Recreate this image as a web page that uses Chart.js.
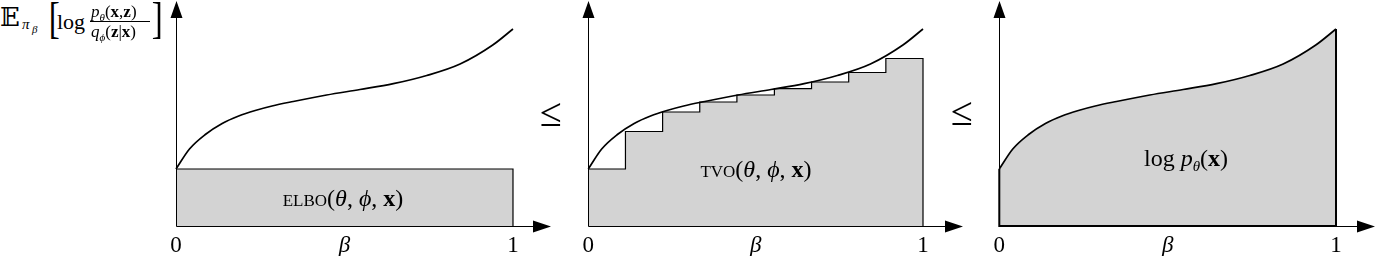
<!DOCTYPE html>
<html>
<head>
<meta charset="utf-8">
<script src="https://cdn.jsdelivr.net/npm/chart.js@4/dist/chart.umd.min.js"></script>
<style>
  html, body { margin: 0; padding: 0; background: #fff; }
  body { width: 1377px; height: 256px; position: relative; overflow: hidden;
         font-family: 'Liberation Serif', serif; color: #000; }
  canvas { position: absolute; top: 0; }
  .t { position: absolute; white-space: nowrap; line-height: 1; color: #000; }
  .sc { font-variant: small-caps; }
  .lab { font-size: 24px; transform: translate(-50%, -50%); }
  .le { font-size: 40px; transform: translate(-50%, -50%); }
</style>
</head>
<body>
<canvas id="c1" width="420" height="256" style="left:140px"></canvas>
<canvas id="c2" width="405" height="256" style="left:565px"></canvas>
<canvas id="c3" width="402" height="256" style="left:975px"></canvas>

<!-- y label -->
<span class="t" style="left:0px;top:4px;font-size:26px;font-family:'DejaVu Serif','DejaVu Sans'">𝔼</span>
<span class="t" style="left:22px;top:17px;font-size:15px;font-style:italic">π</span>
<span class="t" style="left:32px;top:24px;font-size:11px;font-style:italic">β</span>
<span class="t" style="left:47px;top:-3px;font-size:44px;transform:scaleX(0.75)">[</span>
<span class="t" style="left:57px;top:11px;font-size:22px">log</span>
<span class="t" style="left:91px;top:3px;font-size:17px"><i>p</i><sub style="font-size:11px"><i>θ</i></sub>(<b>x</b>,<b>z</b>)</span>
<span style="position:absolute;left:90px;top:21px;width:60px;height:0;border-top:1px solid #000"></span>
<span class="t" style="left:91px;top:23px;font-size:17px"><i>q</i><sub style="font-size:11px"><i>ϕ</i></sub>(<b>z</b>|<b>x</b>)</span>
<span class="t" style="left:150px;top:-3px;font-size:44px;transform:scaleX(0.75)">]</span>

<!-- region labels -->
<span class="t lab" style="left:343px;top:198px"><span class="sc">elbo</span>(<i>θ</i>, <i>ϕ</i>, <b>x</b>)</span>
<span class="t lab" style="left:756px;top:169px"><span class="sc">tvo</span>(<i>θ</i>, <i>ϕ</i>, <b>x</b>)</span>
<span class="t lab" style="left:1186px;top:160px">log <i>p</i><sub style="font-size:15px"><i>θ</i></sub>(<b>x</b>)</span>

<span class="t le" style="left:551px;top:113px">≤</span>
<span class="t le" style="left:962px;top:112px">≤</span>

<script>
// curve E[log p/q] over beta
const beta = [0, 0.04, 0.087, 0.137, 0.186, 0.235, 0.285, 0.348, 0.447, 0.546, 0.645, 0.744, 0.843, 0.94, 1];
const curveValues = [57, 77, 91.5, 102.5, 110, 115.5, 120, 124.5, 131, 136.5, 142.3, 150.5, 162, 181, 197];
// ELBO = integrand at beta = 0
const elboValue = 57;
// TVO left Riemann sum, 9 partitions
const stepBeta = [0, 0.111, 0.222, 0.333, 0.444, 0.556, 0.667, 0.778, 0.889, 1];
const stepValues = [57, 94.5, 114, 124, 131, 137.3, 144, 153.5, 167.5, 167.5];

const xTicks = [0, 0.5, 1];
const xTickLabels = ['0', 'β', '1'];
const yMax = 225;

const GRAY = '#d3d3d3';

const curvePts = beta.map((b, i) => ({x: b, y: curveValues[i]}));

// axes with arrow heads
const arrowAxes = {
  id: 'arrowAxes',
  afterDatasetsDraw(chart) {
    const {ctx, chartArea: a, scales: {x, y}} = chart;
    const x0 = Math.round(x.getPixelForValue(0)) + 0.5;
    const y0 = Math.round(y.getPixelForValue(0)) + 0.5;
    ctx.save();
    ctx.strokeStyle = '#000';
    ctx.fillStyle = '#000';
    ctx.lineWidth = 1;
    ctx.beginPath();
    ctx.moveTo(x0, y0); ctx.lineTo(a.right - 10, y0);
    ctx.moveTo(x0, y0); ctx.lineTo(x0, a.top + 10);
    ctx.stroke();
    ctx.beginPath();
    ctx.moveTo(a.right, y0); ctx.lineTo(a.right - 18, y0 - 6); ctx.lineTo(a.right - 18, y0 + 6);
    ctx.closePath(); ctx.fill();
    ctx.beginPath();
    ctx.moveTo(x0, a.top); ctx.lineTo(x0 - 6, a.top + 17); ctx.lineTo(x0 + 6, a.top + 17);
    ctx.closePath(); ctx.fill();
    ctx.restore();
  }
};

function makeOptions(padLeft, padRight, xMax) {
  return {
    responsive: false,
    animation: false,
    layout: { padding: { left: padLeft, right: padRight, top: 1, bottom: 0 } },
    plugins: { legend: { display: false }, tooltip: { enabled: false } },
    elements: { point: { radius: 0 } },
    scales: {
      x: {
        type: 'linear', min: 0, max: xMax,
        grid: { display: false, drawTicks: false },
        border: { display: false },
        afterBuildTicks: s => { s.ticks = xTicks.map(v => ({ value: v })); },
        afterFit: s => { s.height = 30; },
        ticks: {
          autoSkip: false, maxRotation: 0, padding: 6, color: '#000',
          font: c => ({ family: 'Liberation Serif', size: 23, style: c.index === 1 ? 'italic' : 'normal' }),
          callback: (v, i) => xTickLabels[i]
        }
      },
      y: { display: false, min: 0, max: yMax }
    }
  };
}

function curveSet(extra) {
  return Object.assign({
    data: curvePts, borderColor: '#000', borderWidth: 1.7,
    cubicInterpolationMode: 'monotone', fill: false, clip: false
  }, extra || {});
}

// panel 1: ELBO
new Chart(document.getElementById('c1'), {
  type: 'line',
  data: {
    datasets: [
      curveSet(),
      {
        data: [{x: 0, y: elboValue}, {x: 1, y: elboValue}, {x: 1, y: 0}],
        borderColor: '#000', borderWidth: 1.2, backgroundColor: GRAY,
        fill: 'origin', tension: 0, clip: false
      }
    ]
  },
  options: makeOptions(36, 9, 1.1128),
  plugins: [arrowAxes]
});

// panel 2: TVO
new Chart(document.getElementById('c2'), {
  type: 'line',
  data: {
    datasets: [
      curveSet(),
      {
        data: stepBeta.map((b, i) => ({x: b, y: stepValues[i]})).concat([{x: 1, y: 0}]),
        borderColor: '#000', borderWidth: 1.2, backgroundColor: GRAY,
        fill: 'origin', stepped: 'before', clip: false
      }
    ]
  },
  options: makeOptions(23.3, 7, 1.1195),
  plugins: [arrowAxes]
});

// panel 3: log p(x)
new Chart(document.getElementById('c3'), {
  type: 'line',
  data: {
    datasets: [
      {
        data: [{x: 0, y: curveValues[0]}, {x: 0, y: 0}, {x: 1, y: 0}, {x: 1, y: curveValues[curveValues.length - 1]}],
        borderColor: '#000', borderWidth: 2, fill: false, tension: 0, clip: false
      },
      curveSet({ fill: 'origin', backgroundColor: GRAY })
    ]
  },
  options: makeOptions(24.3, 2, 1.1158),
  plugins: [arrowAxes]
});
</script>
</body>
</html>
